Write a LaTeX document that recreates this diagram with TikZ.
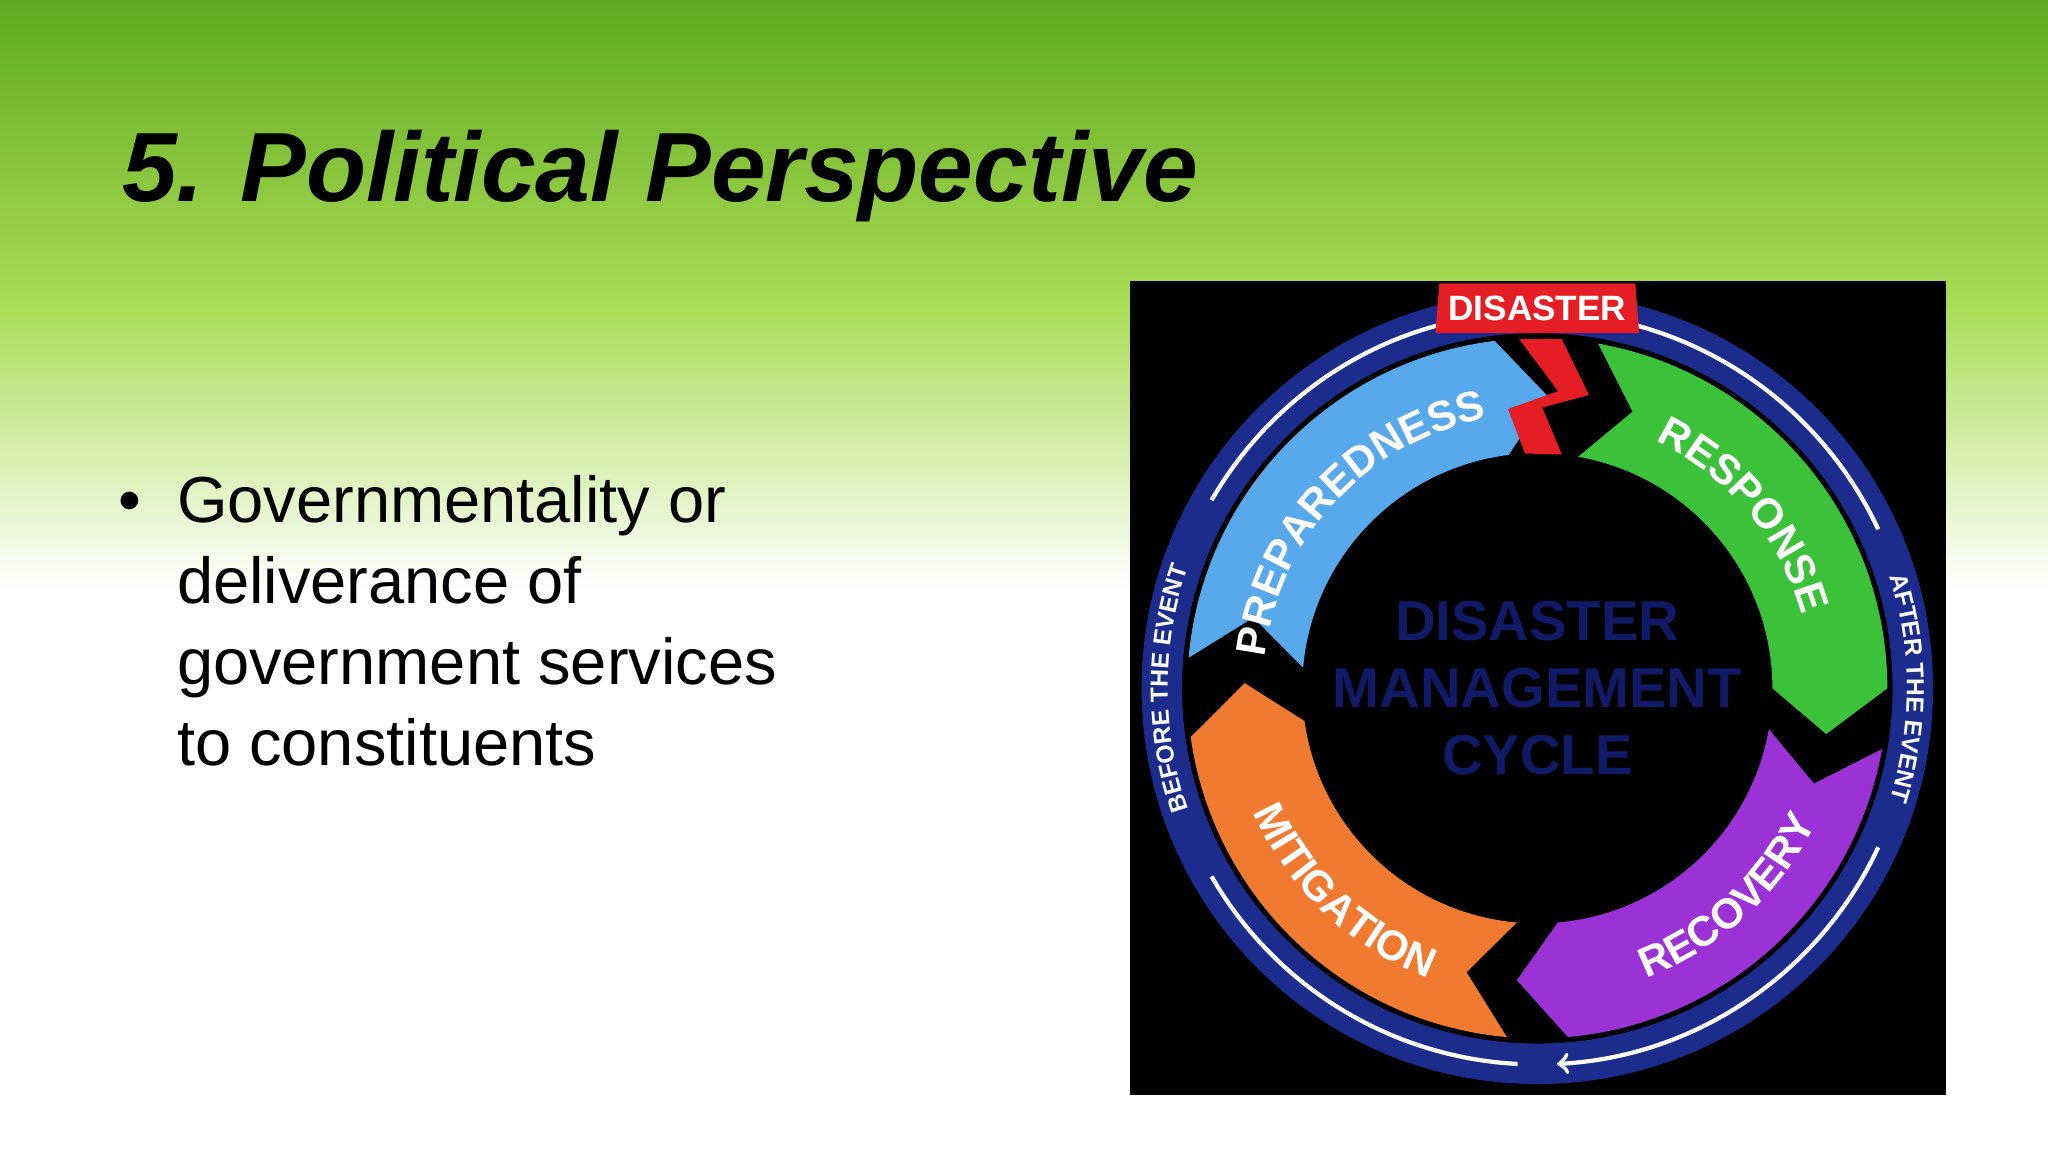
\documentclass[tikz,border=0pt]{standalone}
\usepackage{fontspec}
\setmainfont{Liberation Sans}
\usetikzlibrary{decorations.text}

\definecolor{leaf}{HTML}{5EA91F}
\definecolor{lime}{HTML}{A8DC55}
\definecolor{ringblue}{HTML}{1B2C8C}
\definecolor{prepblue}{HTML}{58A8EC}
\definecolor{respgreen}{HTML}{3CC23A}
\definecolor{recpurple}{HTML}{9A32D6}
\definecolor{mitorange}{HTML}{F07A30}
\definecolor{disred}{HTML}{E51E25}
\definecolor{cyclenavy}{HTML}{101A66}

% annular arrow segment, clockwise from #1 to #2
\newcommand{\segm}[3]{%
  \fill[#3] (#1:268) arc[start angle=#1, end angle=#2, radius=268]
    -- (#2-9:224) -- (#2:180) arc[start angle=#2, end angle=#1, radius=180]
    -- (#1-9:224) -- cycle;}

\begin{document}
\begin{tikzpicture}[x=0.01306cm, y=0.01306cm]
  \tikzstyle{every node} = [inner sep=0pt]
  \tikzstyle{arclabel}   = [decorate]
  \tikzstyle{thinarc}    = [white, line width=1.2pt]
  \tikzstyle{bodytext}   = [anchor=base west, font=\fontsize{18.5}{18.5}\selectfont]

  \useasboundingbox (0,0) rectangle (1568,882);
  % background
  \fill[white] (0,0) rectangle (1568,882);
  \shade[top color=lime, bottom color=white] (0,430) rectangle (1568,650);
  \shade[top color=leaf, bottom color=lime] (0,650) rectangle (1568,882);

  \node[anchor=base west, font=\fontsize{28}{28}\selectfont\bfseries\itshape] (title)
    at (93,728) {5. Political Perspective};

  \node[bodytext] (dot) at (90,482) {\textbullet};
  \foreach \txt [count=\i] in {Governmentality or, deliverance of,
      government services, to constituents}
    \node[bodytext] (line\i) at (135,482-62*\i+62) {\txt};

  % diagram
  \fill[black] (865,44) rectangle (1490,667);
  \begin{scope}[shift={(1177,355)}]
    \fill[ringblue, even odd rule] (0,0) circle[radius=303] (0,0) circle[radius=272];
    \draw[thinarc, ->] (150:288) arc[start angle=150, end angle=102, radius=288];
    \draw[thinarc] (78:288) arc[start angle=78, end angle=25, radius=288];
    \draw[thinarc, ->] (-25:288) arc[start angle=-25, end angle=-87, radius=288];
    \draw[thinarc] (-93:288) arc[start angle=-93, end angle=-150, radius=288];

    \segm{175}{97}{prepblue}
    \segm{80}{0}{respgreen}
    \segm{-10}{-85}{recpurple}
    \segm{-95}{-172}{mitorange}
    % disaster mark
    \fill[disred] (93:180) -- (96:215) -- (86:228) -- (93:268) -- (86:268)
      -- (80:228) -- (89:215) -- (84:180) -- cycle;
    \fill[disred] (-78,272) -- (78,272) -- (75,310) -- (-75,310) -- cycle;
    \node[white, font=\fontsize{10}{10}\selectfont\bfseries] (disaster) at (0,291) {DISASTER};

    \path[arclabel, decoration={text along path, text align=center,
      text={|\fontsize{12}{12}\selectfont\bfseries\color{white}|PREPAREDNESS}}]
      (172:210) arc[start angle=172, end angle=102, radius=210];
    \path[arclabel, decoration={text along path, text align=center,
      text={|\fontsize{12}{12}\selectfont\bfseries\color{white}|RESPONSE}}]
      (75:210) arc[start angle=75, end angle=5, radius=210];
    \path[arclabel, decoration={text along path, text align=center,
      text={|\fontsize{12}{12}\selectfont\bfseries\color{white}|RECOVERY}}]
      (-85:237) arc[start angle=-85, end angle=-10, radius=237];
    \path[arclabel, decoration={text along path, text align=center,
      text={|\fontsize{12}{12}\selectfont\bfseries\color{white}|MITIGATION}}]
      (-172:237) arc[start angle=-172, end angle=-95, radius=237];
    \path[arclabel, decoration={text along path, text align=center,
      text={|\fontsize{7}{7}\selectfont\bfseries\color{white}|BEFORE THE EVENT}}]
      (205:283) arc[start angle=205, end angle=155, radius=283];
    \path[arclabel, decoration={text along path, text align=center,
      text={|\fontsize{7}{7}\selectfont\bfseries\color{white}|AFTER THE EVENT}}]
      (25:283) arc[start angle=25, end angle=-25, radius=283];

    \node[align=center, text=cyclenavy, font=\fontsize{16}{19}\selectfont\bfseries] (cycle)
      at (0,0) {DISASTER\\MANAGEMENT\\CYCLE};
  \end{scope}
\end{tikzpicture}
\end{document}
